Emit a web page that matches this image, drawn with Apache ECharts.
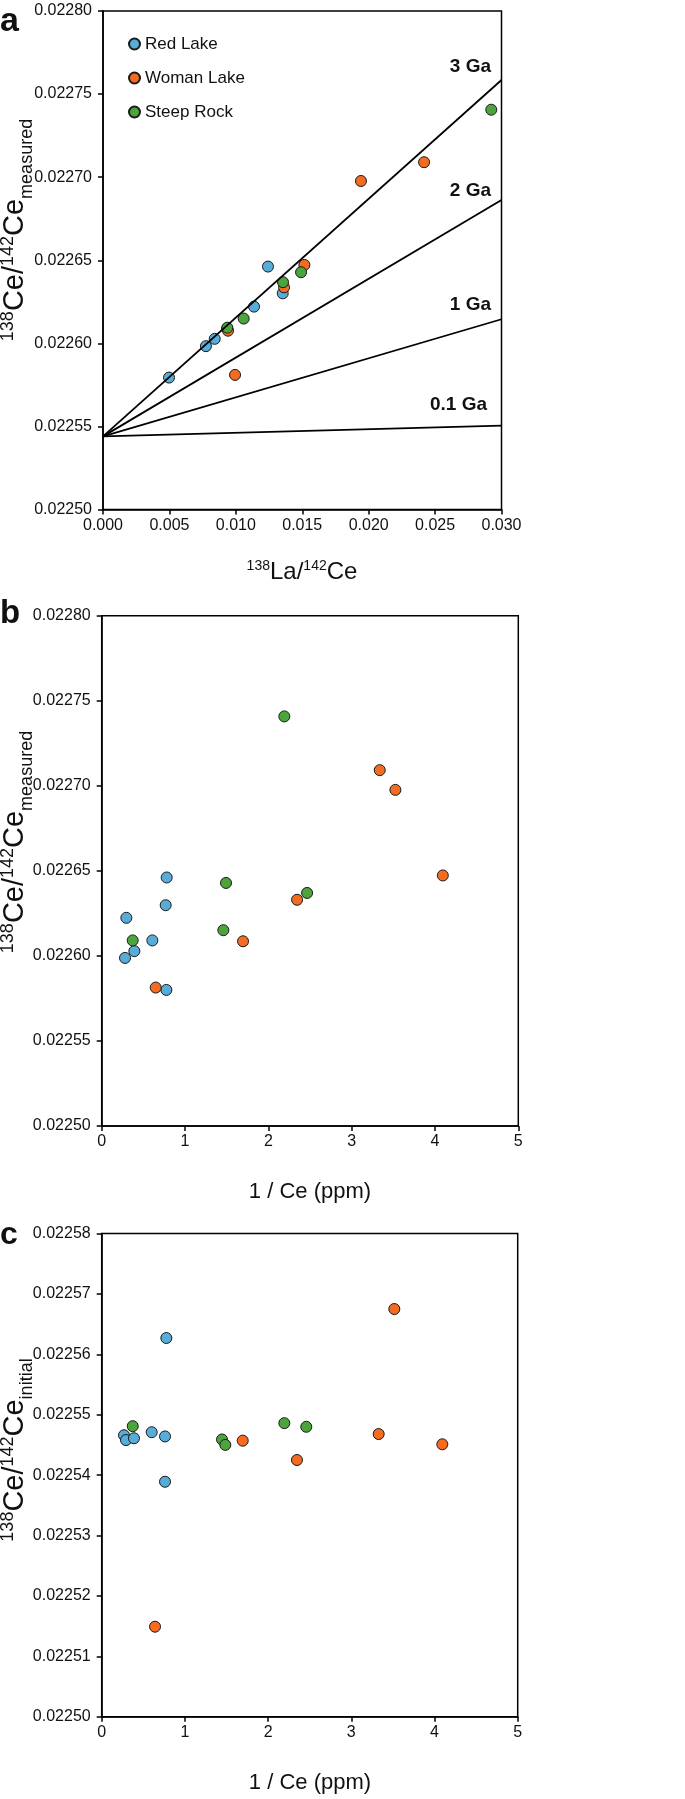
<!DOCTYPE html>
<html>
<head>
<meta charset="utf-8">
<title>138Ce/142Ce</title>
<script src="https://cdn.jsdelivr.net/npm/echarts/dist/echarts.min.js"></script>
<style>
  html, body { margin: 0; padding: 0; background: #fff; }
  .main-chart { width: 685px; height: 1799px; }
</style>
</head>
<body>
<div class="main-chart"></div>
<script>
// panel a : 138La/142Ce  vs  138Ce/142Ce measured
var redLakeA = [[0.00497, 0.0225794], [0.00775, 0.0225983], [0.00841, 0.0226027], [0.00935, 0.0226090],
  [0.01137, 0.0226221], [0.01242, 0.0226462], [0.01353, 0.0226301]];
var womanLakeA = [[0.00941, 0.0226076], [0.00994, 0.0225810], [0.01363, 0.0226337], [0.01516, 0.0226472],
  [0.01942, 0.0226977], [0.02417, 0.0227090]];
var steepRockA = [[0.00936, 0.0226094], [0.01059, 0.0226149], [0.01355, 0.0226368], [0.01491, 0.0226428],
  [0.02923, 0.0227406]];

// isochrons (start point, end points read at x = 0.030)
var isoNames = ['3 Ga', '2 Ga', '1 Ga', '0.1 Ga'];
var isoStart = [0, 0.022544];
var isoEnds = [[0.030, 0.0227585], [0.030, 0.0226863], [0.030, 0.0226145], [0.030, 0.0225505]];

// panel b : 1/Ce vs 138Ce/142Ce measured
var redLakeB = [[0.280, 0.0225988], [0.296, 0.0226224], [0.392, 0.0226028], [0.608, 0.0226091],
  [0.768, 0.0226298], [0.776, 0.0225800], [0.780, 0.0226461]];
var womanLakeB = [[0.648, 0.0225814], [1.696, 0.0226086], [2.345, 0.0226330], [3.337, 0.0227092],
  [3.525, 0.0226976], [4.094, 0.0226473]];
var steepRockB = [[0.372, 0.0226091], [1.460, 0.0226151], [1.492, 0.0226429], [2.192, 0.0227408],
  [2.465, 0.0226370]];

// panel c : 1/Ce vs 138Ce/142Ce initial
var redLakeC = [[0.268, 0.0225466], [0.292, 0.0225458], [0.388, 0.0225461], [0.601, 0.0225471],
  [0.761, 0.0225464], [0.777, 0.0225627], [0.761, 0.0225389]];
var womanLakeC = [[0.641, 0.0225149], [1.695, 0.0225457], [2.347, 0.0225425], [3.329, 0.0225468],
  [3.517, 0.0225675], [4.094, 0.0225451]];
var steepRockC = [[0.373, 0.0225481], [1.446, 0.0225459], [1.486, 0.0225450], [2.195, 0.0225486],
  [2.459, 0.0225480]];

// axis ranges : [min, max, interval, decimals]
var xAxisA = [0, 0.030, 0.005, 3];
var yAxisA = [0.02250, 0.02280, 0.00005, 5];
var xAxisB = [0, 5, 1, 0];
var yAxisB = [0.02250, 0.02280, 0.00005, 5];
var xAxisC = [0, 5, 1, 0];
var yAxisC = [0.02250, 0.02258, 0.00001, 5];

var groupNames = ['Red Lake', 'Woman Lake', 'Steep Rock'];
var groupColors = ['#58acd8', '#f36c21', '#4ba53c'];

var SANS = '"Liberation Sans", Arial, sans-serif';

function makeAxis(range, idx, isX) {
  return {
    type: 'value',
    gridIndex: idx,
    min: range[0],
    max: range[1],
    interval: range[2],
    axisLine: { show: true, onZero: false, lineStyle: { color: '#000', width: 1.5 } },
    axisTick: { show: true, inside: false, length: 5, lineStyle: { color: '#000', width: 1.5 } },
    splitLine: { show: false },
    axisLabel: {
      margin: isX ? 8 : 11,
      color: '#111',
      fontSize: 16,
      fontFamily: SANS,
      formatter: function (v) { return v.toFixed(range[3]); }
    }
  };
}

function scatter(name, color, data, idx) {
  return {
    name: name,
    type: 'scatter',
    xAxisIndex: idx,
    yAxisIndex: idx,
    symbol: 'circle',
    symbolSize: 11,
    itemStyle: { color: color, borderColor: '#1a1a1a', borderWidth: 1, opacity: 1 },
    data: data
  };
}

function yTitle(x, y, sub) {
  return {
    type: 'text', x: x, y: y, rotation: Math.PI / 2,
    style: {
      text: '{sup|138}{big|Ce/}{sup|142}{big|Ce}{sub|' + sub + '}',
      align: 'center', verticalAlign: 'middle', fill: '#111',
      rich: {
        big: { fontSize: 29, fontFamily: SANS, lineHeight: 42 },
        sup: { fontSize: 18, fontFamily: SANS, verticalAlign: 'top', padding: [5, 0, 0, 0] },
        sub: { fontSize: 18, fontFamily: SANS, verticalAlign: 'bottom' }
      }
    }
  };
}

function plainText(x, y, text, size, weight, align) {
  return {
    type: 'text', x: x, y: y,
    style: {
      text: text, fontSize: size, fontWeight: weight, fontFamily: SANS,
      fill: '#111', align: align, verticalAlign: 'middle'
    }
  };
}

var chart = echarts.init(document.querySelector('.main-chart'));

var series = [];
var panels = [[redLakeA, womanLakeA, steepRockA], [redLakeB, womanLakeB, steepRockB], [redLakeC, womanLakeC, steepRockC]];
for (var p = 0; p < panels.length; p++) {
  for (var g = 0; g < groupNames.length; g++) {
    series.push(scatter(groupNames[g], groupColors[g], panels[p][g], p));
  }
}
for (var i = 0; i < isoEnds.length; i++) {
  series.unshift({
    name: isoNames[i],
    type: 'line',
    xAxisIndex: 0,
    yAxisIndex: 0,
    symbol: 'none',
    silent: true,
    lineStyle: { color: '#000', width: 1.8 },
    data: [isoStart, isoEnds[i]]
  });
}

// isochron labels sit at the right end of each line
var isoLabelPos = [[491, 67], [491, 191], [491, 305], [487, 405]];
var graphics = [
  plainText(0, 22, 'a', 34, 'bold', 'left'),
  plainText(0, 614, 'b', 33, 'bold', 'left'),
  plainText(0, 1235, 'c', 32, 'bold', 'left'),
  yTitle(15, 230, 'measured'),
  yTitle(15, 842, 'measured'),
  yTitle(15, 1450, 'initial'),
  {
    type: 'text', x: 302, y: 572,
    style: {
      text: '{sup|138}{big|La/}{sup|142}{big|Ce}',
      align: 'center', verticalAlign: 'middle', fill: '#111',
      rich: {
        big: { fontSize: 24, fontFamily: SANS, lineHeight: 30 },
        sup: { fontSize: 14, fontFamily: SANS, verticalAlign: 'top', padding: [2, 0, 0, 0] }
      }
    }
  },
  plainText(310, 1192, '1 / Ce (ppm)', 22, 'normal', 'center'),
  plainText(310, 1783, '1 / Ce (ppm)', 22, 'normal', 'center')
];
for (var k = 0; k < isoNames.length; k++) {
  graphics.push(plainText(isoLabelPos[k][0], isoLabelPos[k][1], isoNames[k], 19, 'bold', 'right'));
}

chart.setOption({
  animation: false,
  backgroundColor: '#fff',
  grid: [
    { left: 103, top: 11, width: 398.5, height: 498.5, show: true, borderColor: '#000', borderWidth: 1.5, backgroundColor: 'transparent' },
    { left: 101.7, top: 615.7, width: 416.6, height: 510.3, show: true, borderColor: '#000', borderWidth: 1.5, backgroundColor: 'transparent' },
    { left: 101.7, top: 1233.5, width: 416, height: 483.2, show: true, borderColor: '#000', borderWidth: 1.5, backgroundColor: 'transparent' }
  ],
  xAxis: [makeAxis(xAxisA, 0, true), makeAxis(xAxisB, 1, true), makeAxis(xAxisC, 2, true)],
  yAxis: [makeAxis(yAxisA, 0, false), makeAxis(yAxisB, 1, false), makeAxis(yAxisC, 2, false)],
  legend: {
    data: groupNames,
    orient: 'vertical',
    left: 123,
    top: 29,
    itemWidth: 11,
    itemHeight: 11,
    itemGap: 14,
    icon: 'circle',
    selectedMode: false,
    textStyle: { fontSize: 17, fontFamily: SANS, color: '#111', lineHeight: 20 }
  },
  graphic: graphics,
  series: series
});
</script>
</body>
</html>
